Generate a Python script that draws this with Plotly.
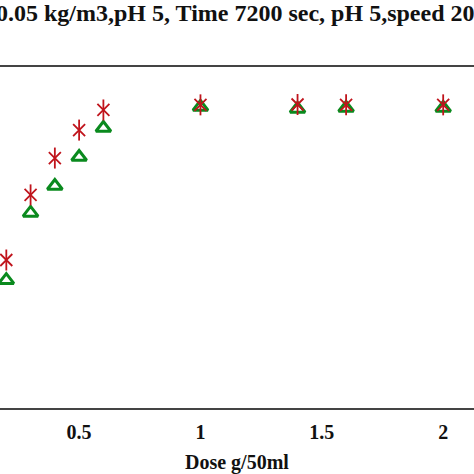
import plotly.graph_objects as go

# values (removal %, estimated; y axis is cropped out)
dose = [0.2, 0.3, 0.4, 0.5, 0.6, 1.0, 1.4, 1.6, 2.0]
series_red = [43.4, 62.5, 73.3, 81.5, 87.4, 88.9, 89.0, 88.9, 88.9]
series_green = [37.5, 57.2, 65.1, 73.6, 82.1, 88.3, 87.7, 88.0, 88.0]
x_ticks = [0.5, 1, 1.5, 2]
x_tick_labels = ["<b>0.5</b>", "<b>1</b>", "<b>1.5</b>", "<b>2</b>"]

title_text = "<b>0.05 kg/m3,pH 5, Time 7200 sec, pH 5,speed 200 rpm</b>"
x_title = "<b>Dose g/50ml</b>"
FONT = "Liberation Serif"
RED = "#c0141c"
GREEN = "#0a8a1e"

fig = go.Figure()

# green open triangles
fig.add_trace(go.Scatter(
    x=dose, y=series_green, mode="markers",
    marker=dict(symbol="triangle-up-open", size=13, color=GREEN,
                line=dict(color=GREEN, width=3)),
    showlegend=False, cliponaxis=False,
))

# red "*" built from an x and a vertical bar
fig.add_trace(go.Scatter(
    x=dose, y=series_red, mode="markers",
    marker=dict(symbol="x-thin-open", size=12, color=RED,
                line=dict(color=RED, width=1.8)),
    showlegend=False, cliponaxis=False,
))
fig.add_trace(go.Scatter(
    x=dose, y=series_red, mode="markers",
    marker=dict(symbol="line-ns-open", size=15, color=RED,
                line=dict(color=RED, width=1.8)),
    showlegend=False, cliponaxis=False,
))

# chart title (cropped at both sides in the reference)
fig.add_annotation(
    text=title_text, xref="paper", yref="paper",
    x=-0.013, y=1.0, xanchor="left", yanchor="middle", yshift=54,
    showarrow=False, font=dict(family=FONT, size=24, color="#111111"),
)
# x axis title
fig.add_annotation(
    text=x_title, xref="paper", yref="paper",
    x=0.5, y=0.0, xanchor="center", yanchor="middle", yshift=-54,
    showarrow=False, font=dict(family=FONT, size=20, color="#111111"),
)

fig.update_layout(
    width=474, height=474,
    paper_bgcolor="white", plot_bgcolor="white",
    margin=dict(l=0, r=0, t=67, b=66, autoexpand=False),
    font=dict(family=FONT, color="#111111"),
    xaxis=dict(
        range=[0.174, 2.127], automargin=False,
        tickvals=x_ticks, ticktext=x_tick_labels,
        tickfont=dict(family=FONT, size=20, color="#111111"),
        showline=True, mirror=True, linecolor="#444444", linewidth=1.6,
        showgrid=False, zeroline=False, ticks="", ticklabelstandoff=5,
    ),
    yaxis=dict(
        range=[0, 100], automargin=False,
        showline=False, showgrid=False, zeroline=False,
        showticklabels=False, ticks="",
    ),
)

fig.write_html("out.html", config={"displayModeBar": False},
               post_script="document.body.style.margin='0';")
